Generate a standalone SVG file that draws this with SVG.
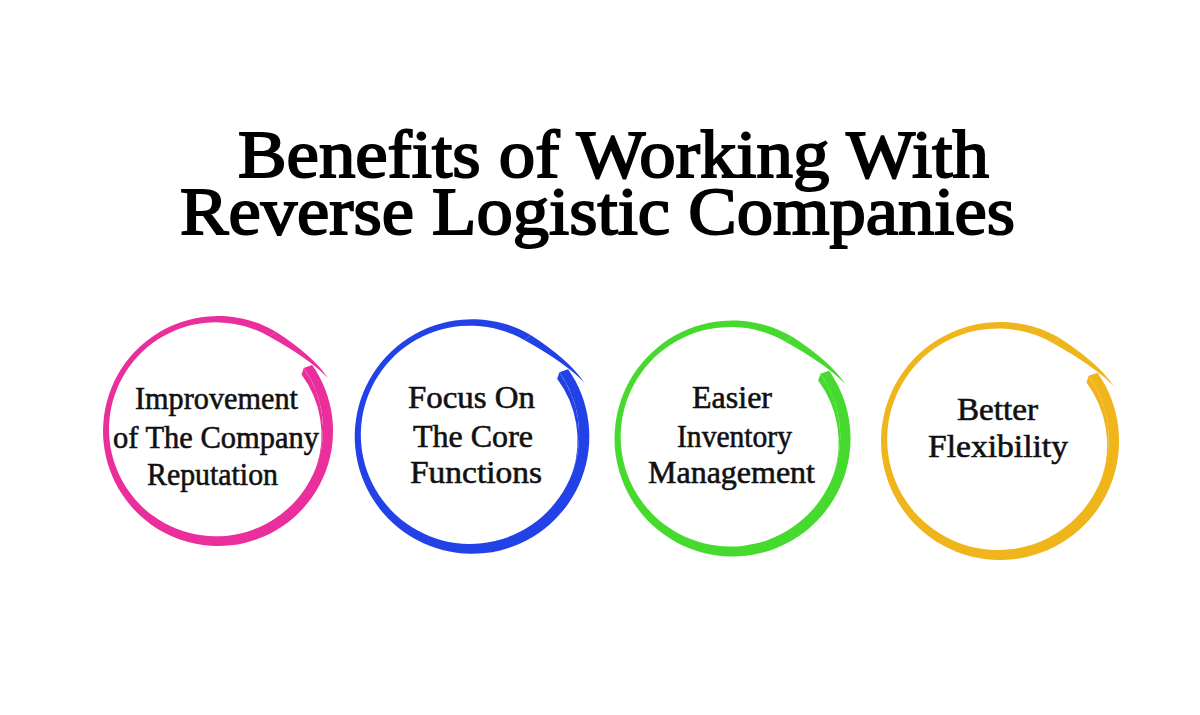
<svg xmlns="http://www.w3.org/2000/svg" xmlns:xlink="http://www.w3.org/1999/xlink" width="1200" height="715" viewBox="0 0 1200 715">
<style>
.title{font-family:"Liberation Serif","Times New Roman",serif;font-weight:normal;font-size:68px;fill:#000;stroke:#000;stroke-width:1.9;}
.lbl{font-family:"Liberation Serif","Times New Roman",serif;font-size:32px;fill:#111;stroke:#111;stroke-width:0.6;}
.pink{fill:#EA2F9C;}
.blue{fill:#2242E8;}
.green{fill:#46D92E;}
.yellow{fill:#EFB51B;}
</style>
<defs>
<g id="ring">
<path d="M 94.2 -66.0 A 115 115 0 1 1 57.5 -99.6 L 51.6 -94.3 A 107 107 0 1 0 85.7 -63.0 Z"/>
<path d="M 57.5 -99.6 Q 95 -75.5 110 -53 Q 91 -72.5 51.6 -94.3 Z"/>
<path d="M 85.7 -63 L 83.5 -56.5 A 101 101 0 0 1 98.6 35 A 107 107 0 0 0 85.7 -63 Z"/>
</g>
</defs>
<rect width="1200" height="715" fill="#fff"/>
<g id="title">
<text class="title" x="238" y="177" textLength="751" lengthAdjust="spacingAndGlyphs">Benefits of Working With</text>
<text class="title" x="180" y="234" textLength="835" lengthAdjust="spacingAndGlyphs">Reverse Logistic Companies</text>
</g>
<g id="connectors"></g>
<g id="node-reputation">
<use xlink:href="#ring" href="#ring" class="pink" transform="translate(218,431)"/>
<text class="lbl" x="135" y="409" textLength="163" lengthAdjust="spacingAndGlyphs">Improvement</text>
<text class="lbl" x="113" y="448" textLength="206" lengthAdjust="spacingAndGlyphs">of The Company</text>
<text class="lbl" x="147" y="485" textLength="131" lengthAdjust="spacingAndGlyphs">Reputation</text>
</g>
<g id="node-core">
<use xlink:href="#ring" href="#ring" class="blue" transform="translate(472,436.5) scale(1.02)"/>
<text class="lbl" x="408" y="408" textLength="127" lengthAdjust="spacingAndGlyphs">Focus On</text>
<text class="lbl" x="413" y="447" textLength="120" lengthAdjust="spacingAndGlyphs">The Core</text>
<text class="lbl" x="410" y="483" textLength="132" lengthAdjust="spacingAndGlyphs">Functions</text>
</g>
<g id="node-inventory">
<use xlink:href="#ring" href="#ring" class="green" transform="translate(732.5,438.5) scale(1.026)"/>
<text class="lbl" x="692" y="408" textLength="80" lengthAdjust="spacingAndGlyphs">Easier</text>
<text class="lbl" x="677" y="447" textLength="115" lengthAdjust="spacingAndGlyphs">Inventory</text>
<text class="lbl" x="648" y="483" textLength="167" lengthAdjust="spacingAndGlyphs">Management</text>
</g>
<g id="node-flexibility">
<use xlink:href="#ring" href="#ring" class="yellow" transform="translate(1000,441) scale(1.035)"/>
<text class="lbl" x="957" y="420" textLength="81" lengthAdjust="spacingAndGlyphs">Better</text>
<text class="lbl" x="928" y="457" textLength="140" lengthAdjust="spacingAndGlyphs">Flexibility</text>
</g>
</svg>
